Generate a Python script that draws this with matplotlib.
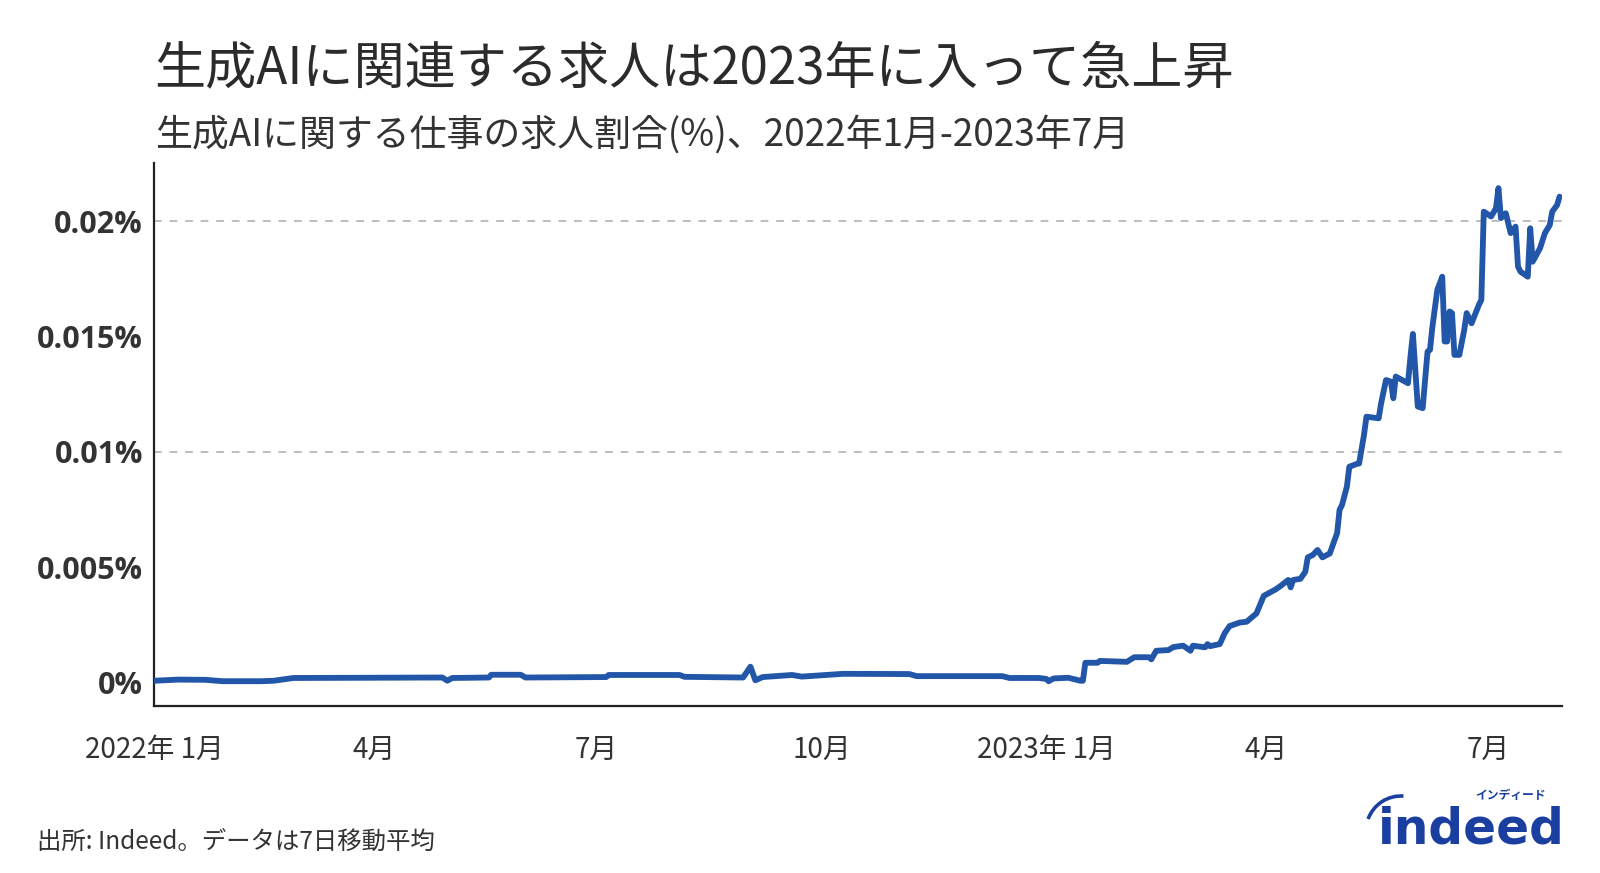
import matplotlib
matplotlib.use("Agg")
import matplotlib.pyplot as plt
from matplotlib.patches import Arc
import pandas as pd

plt.rcParams['font.family'] = ['Noto Sans CJK JP', 'DejaVu Sans']

# ---- data (share of job postings related to generative AI, %, 7-day avg) ----
dates = [
    "2022-01-01", "2022-01-11", "2022-01-22", "2022-01-29", "2022-02-14", "2022-02-19",
    "2022-02-27", "2022-04-29", "2022-05-01", "2022-05-03", "2022-05-18", "2022-05-19",
    "2022-05-31", "2022-06-02", "2022-07-05", "2022-07-06", "2022-08-04", "2022-08-06",
    "2022-08-30", "2022-09-02", "2022-09-04", "2022-09-07", "2022-09-19", "2022-09-23",
    "2022-10-10", "2022-11-06", "2022-11-09", "2022-12-14", "2022-12-17", "2022-12-29",
    "2023-01-01", "2023-01-02", "2023-01-04", "2023-01-10", "2023-01-15", "2023-01-16",
    "2023-01-17", "2023-01-22", "2023-01-23", "2023-02-03", "2023-02-06", "2023-02-12",
    "2023-02-13", "2023-02-15", "2023-02-20", "2023-02-22", "2023-02-26", "2023-03-01",
    "2023-03-02", "2023-03-07", "2023-03-08", "2023-03-09", "2023-03-13", "2023-03-15",
    "2023-03-17", "2023-03-21", "2023-03-24", "2023-03-28", "2023-03-31", "2023-04-05",
    "2023-04-07", "2023-04-10", "2023-04-11", "2023-04-12", "2023-04-15", "2023-04-17",
    "2023-04-18", "2023-04-20", "2023-04-22", "2023-04-24", "2023-04-27", "2023-04-30",
    "2023-05-01", "2023-05-02", "2023-05-04", "2023-05-05", "2023-05-08", "2023-05-09",
    "2023-05-11", "2023-05-12", "2023-05-17", "2023-05-18", "2023-05-20", "2023-05-22",
    "2023-05-23", "2023-05-24", "2023-05-29", "2023-05-30", "2023-05-31", "2023-06-02",
    "2023-06-04", "2023-06-06", "2023-06-07", "2023-06-08", "2023-06-10", "2023-06-12",
    "2023-06-13", "2023-06-14", "2023-06-15", "2023-06-16", "2023-06-17", "2023-06-19",
    "2023-06-21", "2023-06-22", "2023-06-24", "2023-06-27", "2023-06-28", "2023-06-29",
    "2023-07-02", "2023-07-04", "2023-07-05", "2023-07-06", "2023-07-08", "2023-07-10",
    "2023-07-12", "2023-07-13", "2023-07-14", "2023-07-17", "2023-07-18", "2023-07-19",
    "2023-07-22", "2023-07-24", "2023-07-26", "2023-07-27", "2023-07-29", "2023-07-30",
]
share = [
    0.00008, 0.00013, 0.00012, 0.00006, 0.00006, 0.00008,
    0.00020, 0.00022, 0.00008, 0.00020, 0.00022, 0.00034,
    0.00034, 0.00022, 0.00024, 0.00033, 0.00033, 0.00025,
    0.00022, 0.00069, 0.00010, 0.00024, 0.00033, 0.00026,
    0.00038, 0.00037, 0.00028, 0.00028, 0.00020, 0.00020,
    0.00016, 0.00006, 0.00018, 0.00021, 0.00008, 0.00008,
    0.00086, 0.00086, 0.00094, 0.00090, 0.00110, 0.00110,
    0.00101, 0.00138, 0.00141, 0.00154, 0.00160, 0.00138,
    0.00160, 0.00153, 0.00167, 0.00158, 0.00167, 0.00214,
    0.00245, 0.00260, 0.00264, 0.00300, 0.00376, 0.00405,
    0.00420, 0.00445, 0.00413, 0.00445, 0.00450, 0.00481,
    0.00543, 0.00553, 0.00575, 0.00543, 0.00560, 0.00648,
    0.00749, 0.00770, 0.00850, 0.00936, 0.00948, 0.00950,
    0.01074, 0.01153, 0.01146, 0.01211, 0.01312, 0.01305,
    0.01233, 0.01327, 0.01298, 0.01413, 0.01512, 0.01197,
    0.01190, 0.01435, 0.01443, 0.01544, 0.01703, 0.01760,
    0.01479, 0.01479, 0.01609, 0.01602, 0.01421, 0.01421,
    0.01529, 0.01602, 0.01558, 0.01638, 0.01659, 0.02042,
    0.02021, 0.02057, 0.02144, 0.02014, 0.02035, 0.01949,
    0.01977, 0.01804, 0.01782, 0.01760, 0.01970, 0.01825,
    0.01883, 0.01949, 0.01984, 0.02042, 0.02071, 0.02107,
]

y_ticks = [0.0, 0.005, 0.01, 0.015, 0.02]
y_tick_labels = ["0%", "0.005%", "0.01%", "0.015%", "0.02%"]
grid_values = [0.01, 0.02]
x_tick_dates = ["2022-01-01", "2022-04-01", "2022-07-01", "2022-10-01",
                "2023-01-01", "2023-04-01", "2023-07-01"]
x_tick_labels = ["2022年 1月", "4月", "7月", "10月", "2023年 1月", "4月", "7月"]

title = "生成AIに関連する求人は2023年に入って急上昇"
subtitle = "生成AIに関する仕事の求人割合(%)、2022年1月-2023年7月"
source = "出所: Indeed。データは7日移動平均"

# ---- figure ----
W, H = 1600, 873
fig = plt.figure(figsize=(W / 100, H / 100), dpi=100)
fig.patch.set_facecolor("white")

ax = fig.add_axes([154 / W, 1 - 706 / H, (1562 - 154) / W, (706 - 163) / H])
x = pd.to_datetime(dates)
ax.plot(x, share, color="#2256A8", lw=4.2, solid_joinstyle="round",
        solid_capstyle="round", zorder=3)

for g in grid_values:
    ax.axhline(g, color="#BDBDBD", lw=1.4, ls=(0, (4, 4)), zorder=1)

ax.set_xlim(pd.Timestamp("2022-01-01"), pd.Timestamp("2023-07-31"))
ax.set_ylim(-0.001015, 0.02253)

ax.set_yticks(y_ticks)
ax.set_yticklabels(y_tick_labels, fontsize=22, fontweight="bold", color="#333333",
                   family=["Open Sans", "DejaVu Sans"])
ax.set_xticks(pd.to_datetime(x_tick_dates))
ax.set_xticklabels(x_tick_labels, fontsize=20, color="#333333")
ax.tick_params(axis="y", length=0, pad=8)
ax.tick_params(axis="x", length=0, pad=21)

for s in ["top", "right"]:
    ax.spines[s].set_visible(False)
for s in ["left", "bottom"]:
    ax.spines[s].set_color("#222222")
    ax.spines[s].set_linewidth(1.6)

# ---- texts ----
fig.text(154 / W, 1 - 69 / H, title, fontsize=36.8, color="#2B2B2B",
         va="center", ha="left")
fig.text(155 / W, 1 - 135 / H, subtitle, fontsize=26.6, color="#333333",
         va="center", ha="left")
fig.text(37 / W, 1 - 843 / H, source, fontsize=17.6, color="#333333",
         va="center", ha="left")

# ---- logo ----
lax = fig.add_axes([1370 / W, 1 - 855 / H, 200 / W, 70 / H])
lax.set_xlim(0, 200)
lax.set_ylim(0, 70)
lax.axis("off")
blue = "#1B3FA0"
lax.text(101, 12, "indeed", fontsize=35, fontweight="bold", color=blue,
         ha="center", va="baseline", family=["DejaVu Sans"])
lax.add_patch(Arc((31, 24), 70, 70, theta1=86, theta2=160, color=blue, lw=2.6,
                  clip_on=False))
lax.text(141, 60, "インディード", fontsize=8.5, fontweight="bold", color=blue,
         ha="center", va="center")

fig.savefig("out.png", dpi=100, facecolor="white")
